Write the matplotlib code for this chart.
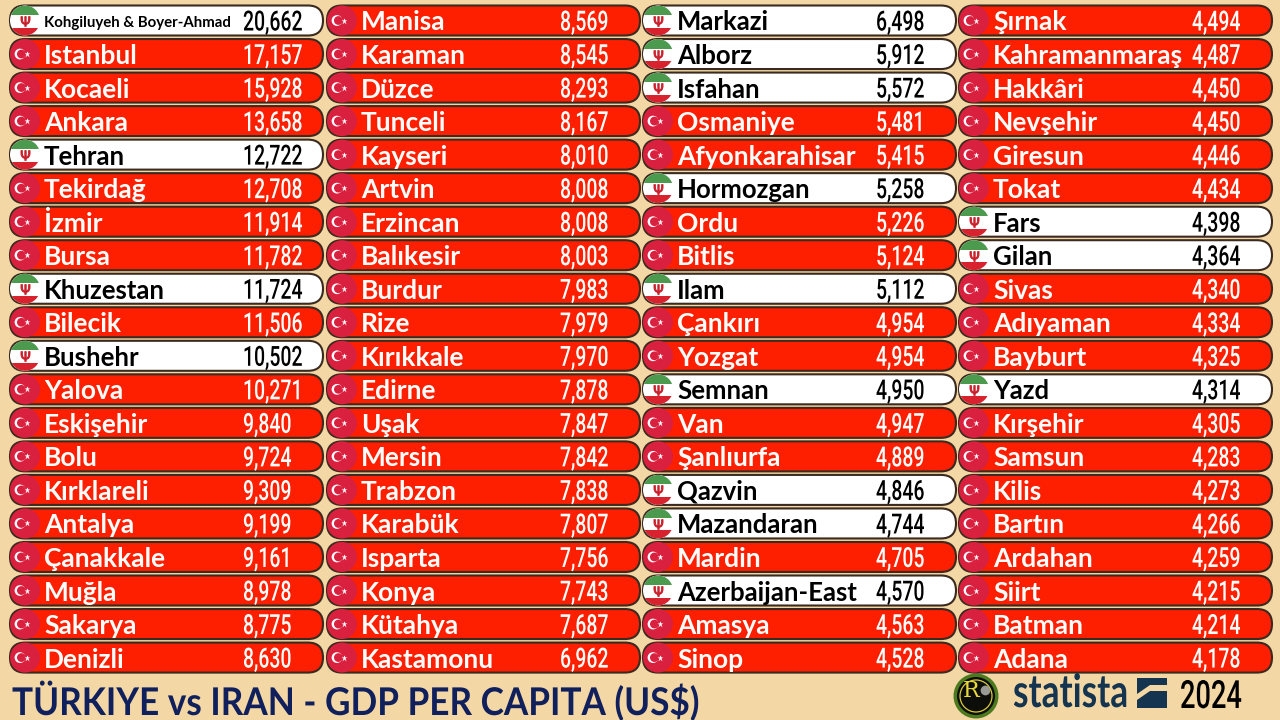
import matplotlib
matplotlib.use("Agg")
import matplotlib.pyplot as plt
from matplotlib.patches import Circle, FancyBboxPatch, Polygon, Rectangle
from matplotlib.patheffects import AbstractPathEffect
from matplotlib.transforms import Affine2D

# ── data ─────────────────────────────────────────────
names = [
    "Kohgiluyeh & Boyer-Ahmad", "Istanbul", "Kocaeli", "Ankara", "Tehran",
    "Tekirdağ", "İzmir", "Bursa", "Khuzestan", "Bilecik",
    "Bushehr", "Yalova", "Eskişehir", "Bolu", "Kırklareli",
    "Antalya", "Çanakkale", "Muğla", "Sakarya", "Denizli",
    "Manisa", "Karaman", "Düzce", "Tunceli", "Kayseri",
    "Artvin", "Erzincan", "Balıkesir", "Burdur", "Rize",
    "Kırıkkale", "Edirne", "Uşak", "Mersin", "Trabzon",
    "Karabük", "Isparta", "Konya", "Kütahya", "Kastamonu",
    "Markazi", "Alborz", "Isfahan", "Osmaniye", "Afyonkarahisar",
    "Hormozgan", "Ordu", "Bitlis", "Ilam", "Çankırı",
    "Yozgat", "Semnan", "Van", "Şanlıurfa", "Qazvin",
    "Mazandaran", "Mardin", "Azerbaijan-East", "Amasya", "Sinop",
    "Şırnak", "Kahramanmaraş", "Hakkâri", "Nevşehir", "Giresun",
    "Tokat", "Fars", "Gilan", "Sivas", "Adıyaman",
    "Bayburt", "Yazd", "Kırşehir", "Samsun", "Kilis",
    "Bartın", "Ardahan", "Siirt", "Batman", "Adana",
]
values = [
    20662, 17157, 15928, 13658, 12722, 12708, 11914, 11782, 11724, 11506,
    10502, 10271, 9840, 9724, 9309, 9199, 9161, 8978, 8775, 8630,
    8569, 8545, 8293, 8167, 8010, 8008, 8008, 8003, 7983, 7979,
    7970, 7878, 7847, 7842, 7838, 7807, 7756, 7743, 7687, 6962,
    6498, 5912, 5572, 5481, 5415, 5258, 5226, 5124, 5112, 4954,
    4954, 4950, 4947, 4889, 4846, 4744, 4705, 4570, 4563, 4528,
    4494, 4487, 4450, 4450, 4446, 4434, 4398, 4364, 4340, 4334,
    4325, 4314, 4305, 4283, 4273, 4266, 4259, 4215, 4214, 4178,
]
iran_names = [
    "Kohgiluyeh & Boyer-Ahmad", "Tehran", "Khuzestan", "Bushehr", "Markazi",
    "Alborz", "Isfahan", "Hormozgan", "Ilam", "Semnan", "Qazvin",
    "Mazandaran", "Azerbaijan-East", "Fars", "Gilan", "Yazd",
]
title_text = "TÜRKIYE vs IRAN - GDP PER CAPITA (US$)"
source_text = "statista"
year_text = "2024"

# ── style ────────────────────────────────────────────
BG = "#f3d7a4"
RED = "#fe1f00"
EDGE = "#3b2a1f"
NAVY = "#10205c"
STATISTA = "#14344f"
CRIMSON = "#d9203f"
COL_X = [10, 327, 643, 959]
ROW_Y0 = 20.5
ROW_STEP = 33.53
PILL_W = 313


class Squeeze(AbstractPathEffect):
    """Narrow a text horizontally around x (no condensed fonts installed)."""

    def __init__(self, x, sx):
        self.x = x
        self.sx = sx

    def draw_path(self, renderer, gc, tpath, affine, rgbFace=None):
        squeeze = Affine2D().translate(-self.x, 0).scale(self.sx, 1).translate(self.x, 0)
        renderer.draw_path(gc, tpath, affine + squeeze, rgbFace)


fig = plt.figure(figsize=(12.8, 7.2), dpi=100, facecolor=BG)
ax = fig.add_axes([0, 0, 1, 1])
ax.set_xlim(0, 1280)
ax.set_ylim(720, 0)
ax.axis("off")


def squeezed_text(x, y, s, sx, **kw):
    t = ax.text(x, y, s, va="baseline", ha="left", **kw)
    t.set_path_effects([Squeeze(x, sx)])
    return t


def draw_turkey_flag(cx, cy):
    ax.add_patch(Circle((cx, cy), 15, fc=CRIMSON, ec="none", zorder=3))
    ax.add_patch(Circle((cx - 5, cy), 5.4, fc="white", ec="none", zorder=4))
    ax.add_patch(Circle((cx - 3.6, cy), 4.4, fc=CRIMSON, ec="none", zorder=5))
    ax.plot(cx + 1.5, cy, marker="*", ms=4.5, mfc="white", mec="none", zorder=6)


def draw_iran_flag(cx, cy):
    disc = Circle((cx, cy), 15, fc="white", ec="none", zorder=3)
    ax.add_patch(disc)
    top = Rectangle((cx - 15, cy - 15), 30, 9.5, fc="#4c9a4e", ec="none", zorder=4)
    bottom = Rectangle((cx - 15, cy + 7), 30, 8, fc="#d8232f", ec="none", zorder=4)
    for stripe in (top, bottom):
        ax.add_patch(stripe)
        stripe.set_clip_path(disc)
    ax.plot(cx, cy + 0.5, marker=r"$\Psi$", ms=7, mfc="#c9202c", mec="#c9202c", mew=0.7, zorder=5)


for i, (name, value) in enumerate(zip(names, values)):
    col, row = divmod(i, 20)
    x0 = COL_X[col]
    cy = ROW_Y0 + ROW_STEP * row
    is_iran = name in iran_names
    ax.add_patch(FancyBboxPatch(
        (x0 + 15, cy), PILL_W - 30, 0,
        boxstyle="round,pad=15,rounding_size=15",
        fc="white" if is_iran else RED, ec=EDGE, lw=1.5, zorder=2,
    ))
    if is_iran:
        draw_iran_flag(x0 + 15, cy)
    else:
        draw_turkey_flag(x0 + 15, cy)
    txt_color = "black" if is_iran else "white"
    if name == names[0]:
        ax.text(x0 + 34, cy + 6.5, name, family="Lato", weight="bold", fontsize=10.8,
                color=txt_color, va="baseline", ha="left", zorder=6)
    else:
        ax.text(x0 + 34, cy + 10, name, family="Lato", weight="bold",
                fontsize=18.5 if is_iran else 19, color=txt_color,
                va="baseline", ha="left", zorder=6)
    squeezed_text(x0 + 233, cy + 10, f"{value:,}", 0.7, family="Roboto", weight="medium",
                  fontsize=20, color=txt_color, zorder=6)

# ── title + footer ───────────────────────────────────
squeezed_text(12, 715, title_text, 0.92, family="Lato", weight="bold", fontsize=27.5, color=NAVY)

ax.add_patch(Circle((976, 696), 22.5, fc="#4d7a1e", ec="none"))
ax.add_patch(Circle((976, 696), 19, fc="#0d0d0a", ec="none"))
ax.add_patch(Circle((976, 696), 16, fc="none", ec="#d8c93a", lw=0.9))
ax.text(971, 691, "R", family="DejaVu Serif", fontsize=16, color="#e6d83a", va="center", ha="center")
ax.plot(985, 690, marker="o", ms=7, mfc="#9a9a94", mec="none")

squeezed_text(1013, 707, source_text, 0.77, family="Lato", weight="bold", fontsize=33, color=STATISTA)
ax.add_patch(Rectangle((1137, 678), 30, 30, fc=STATISTA, ec="none"))
ax.add_patch(Polygon([(1137, 700), (1150, 691), (1167, 691), (1167, 685), (1150, 685), (1137, 694)],
                     fc=BG, ec="none"))
squeezed_text(1180, 708, year_text, 0.7, family="Roboto", weight="medium", fontsize=28, color="black")

fig.savefig("out.png", dpi=100, facecolor=BG)
